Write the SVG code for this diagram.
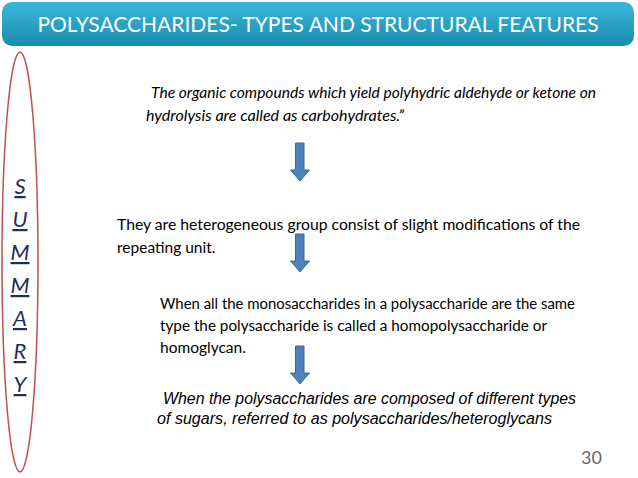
<svg xmlns="http://www.w3.org/2000/svg" width="638" height="478" viewBox="0 0 638 478">
<defs>
<linearGradient id="tg" x1="0" y1="0" x2="0" y2="1"><stop offset="0" stop-color="#3bb6d8"/><stop offset="1" stop-color="#1a8db0"/></linearGradient>
<style>
.c{font-family:Lato,"Open Sans",sans-serif;font-size:15.5px;fill:#000}
.i{font-style:italic}
.a{font-family:"Liberation Sans",Arial,sans-serif;font-size:15.8px;font-style:italic}
.s{font-family:Lato,sans-serif;font-size:22px;font-style:italic;text-decoration:underline;fill:#1f2d5a}
.ar{fill:#4f81bd;stroke:#3a669c;stroke-width:1}
</style>
</defs>
<rect width="638" height="478" fill="#fff"/>
<g id="title"><rect x="2" y="2" width="632" height="44" rx="10" fill="url(#tg)"/>
<text x="318" y="32" text-anchor="middle" font-family="Lato,'Open Sans',sans-serif" font-size="21" fill="#fff">POLYSACCHARIDES- TYPES AND STRUCTURAL FEATURES</text></g>
<g id="summary"><ellipse cx="20" cy="262" rx="18" ry="210" fill="none" stroke="#c0504d" stroke-width="1.5"/>
<text class="s" text-anchor="middle"><tspan x="20" y="194">S</tspan><tspan x="20" y="227">U</tspan><tspan x="20" y="260">M</tspan><tspan x="20" y="293">M</tspan><tspan x="20" y="326">A</tspan><tspan x="20" y="359">R</tspan><tspan x="20" y="392">Y</tspan></text></g>
<g id="t1"><text class="c i"><tspan x="151" y="98" textLength="445" lengthAdjust="spacingAndGlyphs"> The organic compounds which yield polyhydric aldehyde or ketone on</tspan><tspan x="146" y="121" textLength="258" lengthAdjust="spacingAndGlyphs">hydrolysis are called as carbohydrates.”</tspan></text></g>
<g id="t2"><text class="c"><tspan x="117" y="230" textLength="463" lengthAdjust="spacingAndGlyphs">They are heterogeneous group consist of slight modifications of the</tspan><tspan x="117" y="253">repeating  unit.</tspan></text></g>
<g id="t3"><text class="c"><tspan x="160" y="309" textLength="415" lengthAdjust="spacingAndGlyphs">When all the monosaccharides in a polysaccharide are the same</tspan><tspan x="160" y="331" textLength="387" lengthAdjust="spacingAndGlyphs">type the polysaccharide is called a  homopolysaccharide or</tspan><tspan x="160" y="353">homoglycan.</tspan></text></g>
<g id="t4"><text class="a"><tspan x="163" y="404" textLength="413" lengthAdjust="spacingAndGlyphs">When the polysaccharides are composed of different types</tspan><tspan x="157" y="424" textLength="395" lengthAdjust="spacingAndGlyphs">of sugars, referred to as  polysaccharides/heteroglycans</tspan></text></g>
<g id="connectors">
<path class="ar" d="M295.5,143 H304 V170 H309.5 L300,181 L290.5,170 H295.5 Z"/>
<path class="ar" d="M295.5,234 H304 V261 H309.5 L300,272 L290.5,261 H295.5 Z"/>
<path class="ar" d="M295.5,346 H304 V373 H309.5 L300,384 L290.5,373 H295.5 Z"/>
</g>
<text x="602" y="464" text-anchor="end" font-family="Lato,sans-serif" font-size="18" fill="#666">30</text>
</svg>
